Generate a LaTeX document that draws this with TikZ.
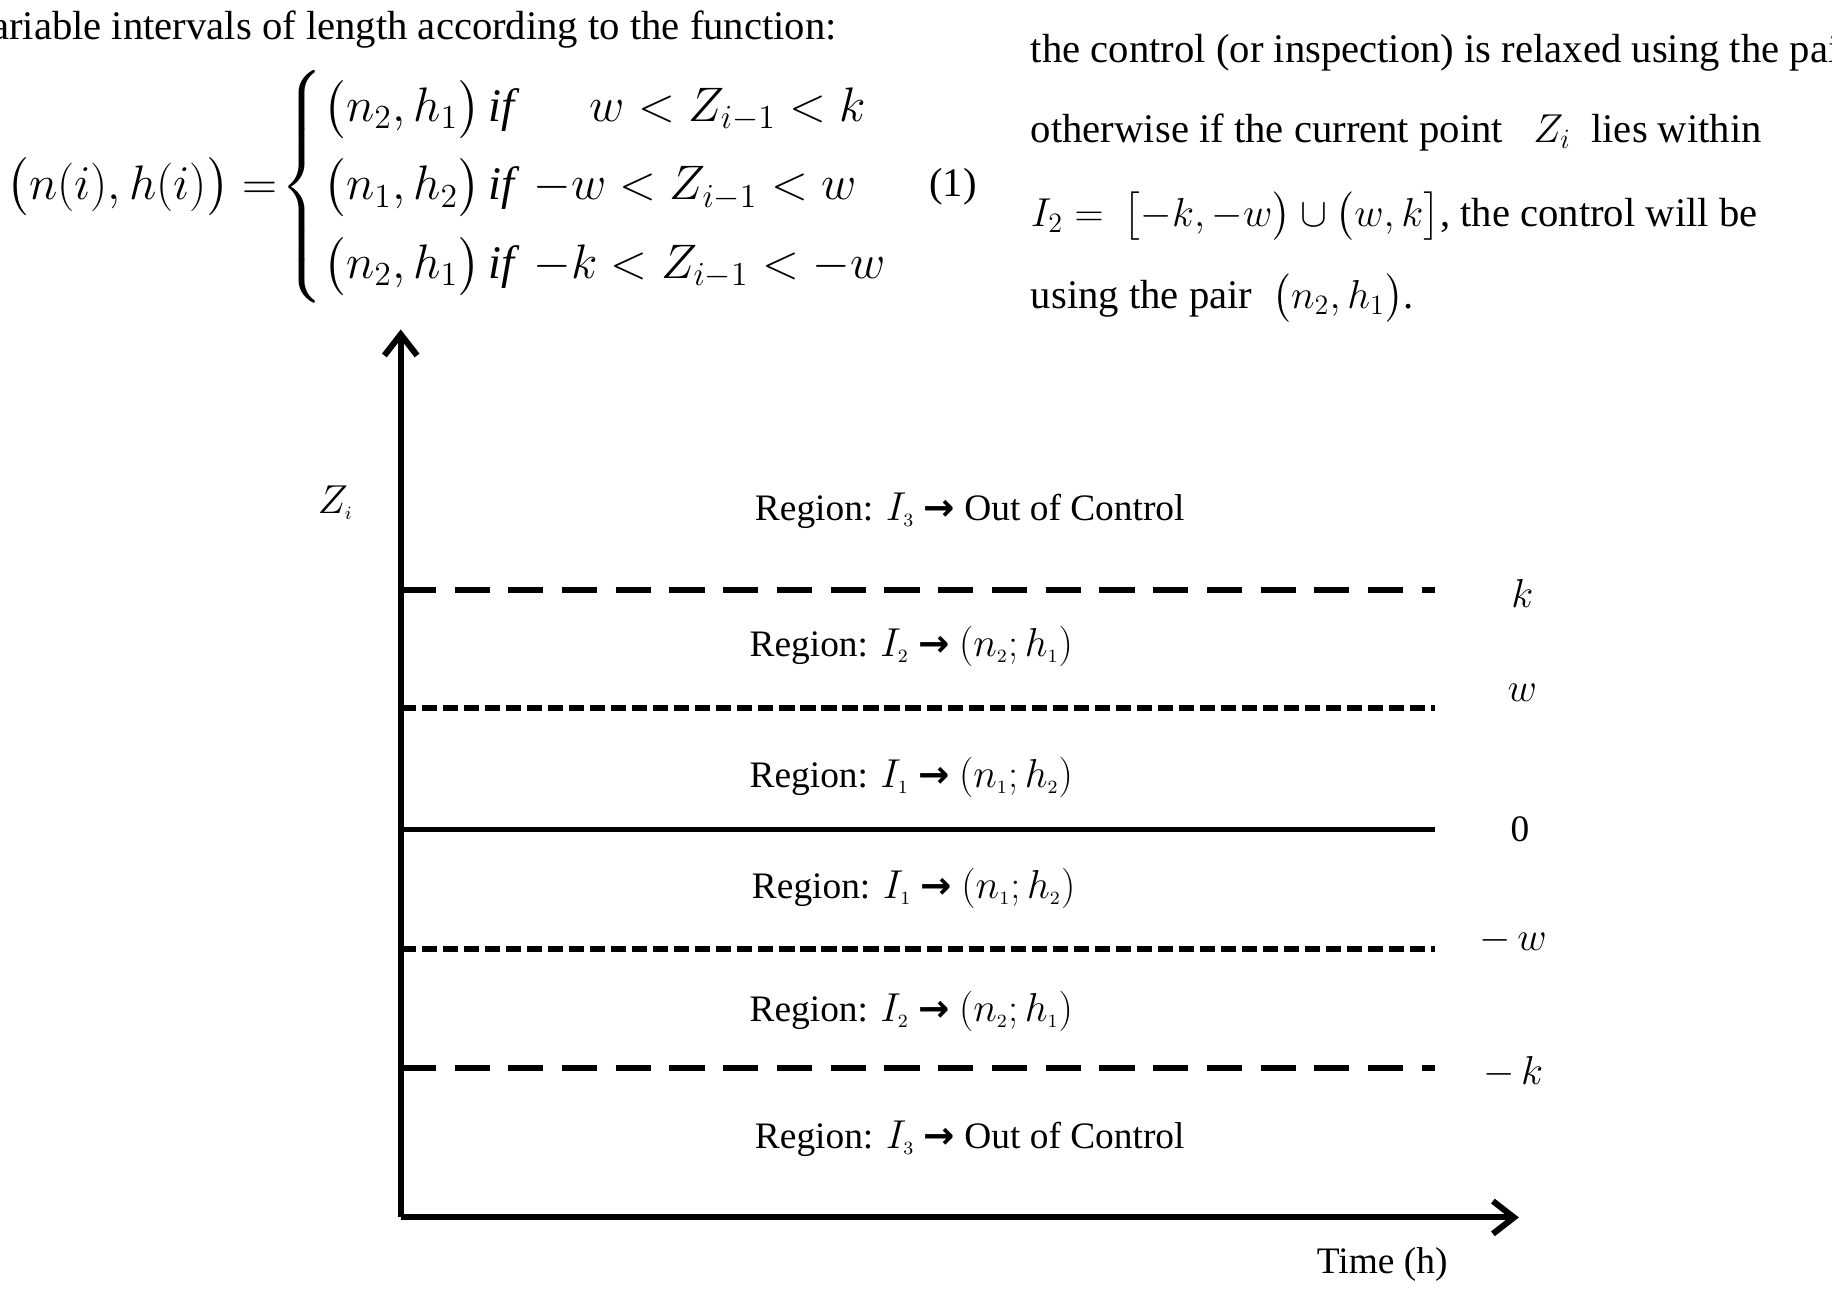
\documentclass[tikz,border=0pt]{standalone}
\usepackage{fontspec}
\usepackage{amsmath}
\setmainfont{Liberation Serif}
\newfontfamily\dvf{DejaVu Sans}
\newcommand{\rar}{{\dvf\bfseries →}}
\usetikzlibrary{arrows.meta}
\begin{document}
\begin{tikzpicture}[x=0.5pt,y=-0.5pt,
  lbl/.style={font=\fontsize{16}{18}\selectfont, inner sep=0pt},
  txt/.style={font=\fontsize{17.4}{20}\selectfont, inner sep=0pt, anchor=west},
  eq/.style={font=\fontsize{20}{23}\selectfont, inner sep=0pt},
  ax/.style={line width=2.6pt},
  ldash/.style={line width=2.4pt, dash pattern=on 15pt off 8pt},
  sdash/.style={line width=2.4pt, dash pattern=on 6.5pt off 2.5pt}]
\clip (0,0) rectangle (1568,1109);
\useasboundingbox (0,0) rectangle (1568,1109);
% top text
\node[txt] (t1) at (-8,25) {ariable intervals of length according to the function:};
\node[eq, anchor=east] (lhs) at (238,160) {$\bigl(n(i),h(i)\bigr)=$};
\node[eq, anchor=west] (cases) at (240,160) {$\begin{cases}
\bigl(n_2,h_1\bigr)\,\mathit{if} & \hspace{0.6em} w<Z_{i-1}<k\\[6pt]
\bigl(n_1,h_2\bigr)\,\mathit{if} & \hspace{-0.6em} -w<Z_{i-1}<w\\[6pt]
\bigl(n_2,h_1\bigr)\,\mathit{if} & \hspace{-0.6em} -k<Z_{i-1}<-w
\end{cases}$};
\node[txt] (eqn) at (795,160) {(1)};
\node[txt] (r1) at (882,45) {the control (or inspection) is relaxed using the pair};
\node[txt] (r2) at (882,113) {otherwise if the current point \enspace$Z_i$\enspace lies within};
\node[txt] (r3) at (882,185) {$I_2=$\enspace $\bigl[-k,-w\bigr)\cup\bigl(w,k\bigr]$, the control will be};
\node[txt] (r4) at (882,255) {using the pair \ $\bigl(n_2,h_1\bigr)$.};
% axes
\coordinate (O) at (343,1042);
\coordinate (Ytop) at (343,282);
\coordinate (Xend) at (1300,1042);
\draw[ax,-{Straight Barb[length=9pt,width=14pt]}] (O) -- (Ytop);
\draw[ax,-{Straight Barb[length=9pt,width=14pt]}] (O) -- (Xend);
\node[lbl] (zi) at (287,430) {$Z_{\scriptscriptstyle i}$};
\node[lbl] (time) at (1183,1082) {Time (h)};
% lines
\coordinate (k1) at (343,505); \coordinate (k2) at (1228,505);
\coordinate (w1) at (343,606); \coordinate (w2) at (1228,606);
\coordinate (z1) at (343,710); \coordinate (z2) at (1228,710);
\coordinate (mw1) at (343,812); \coordinate (mw2) at (1228,812);
\coordinate (mk1) at (343,914); \coordinate (mk2) at (1228,914);
\draw[ldash] (k1) -- (k2);
\draw[sdash] (w1) -- (w2);
\draw[line width=2.4pt] (z1) -- (z2);
\draw[sdash] (mw1) -- (mw2);
\draw[ldash] (mk1) -- (mk2);
\node[lbl] (lk) at (1303,508) {$k$};
\node[lbl] (lw) at (1303,593) {$w$};
\node[lbl] (l0) at (1301,710) {0};
\node[lbl] (lmw) at (1295,805) {$-\,w$};
\node[lbl] (lmk) at (1295,918) {$-\,k$};
% regions
\node[lbl] (g1) at (830,437) {Region: $I_{\scriptscriptstyle 3}$ \rar\ Out of Control};
\node[lbl] (g2) at (780,553) {Region: $I_{\scriptscriptstyle 2}$ \rar\ $(n_{\scriptscriptstyle 2};h_{\scriptscriptstyle 1})$};
\node[lbl] (g3) at (780,665) {Region: $I_{\scriptscriptstyle 1}$ \rar\ $(n_{\scriptscriptstyle 1};h_{\scriptscriptstyle 2})$};
\node[lbl] (g4) at (782,760) {Region: $I_{\scriptscriptstyle 1}$ \rar\ $(n_{\scriptscriptstyle 1};h_{\scriptscriptstyle 2})$};
\node[lbl] (g5) at (780,866) {Region: $I_{\scriptscriptstyle 2}$ \rar\ $(n_{\scriptscriptstyle 2};h_{\scriptscriptstyle 1})$};
\node[lbl] (g6) at (830,975) {Region: $I_{\scriptscriptstyle 3}$ \rar\ Out of Control};
\end{tikzpicture}
\end{document}
